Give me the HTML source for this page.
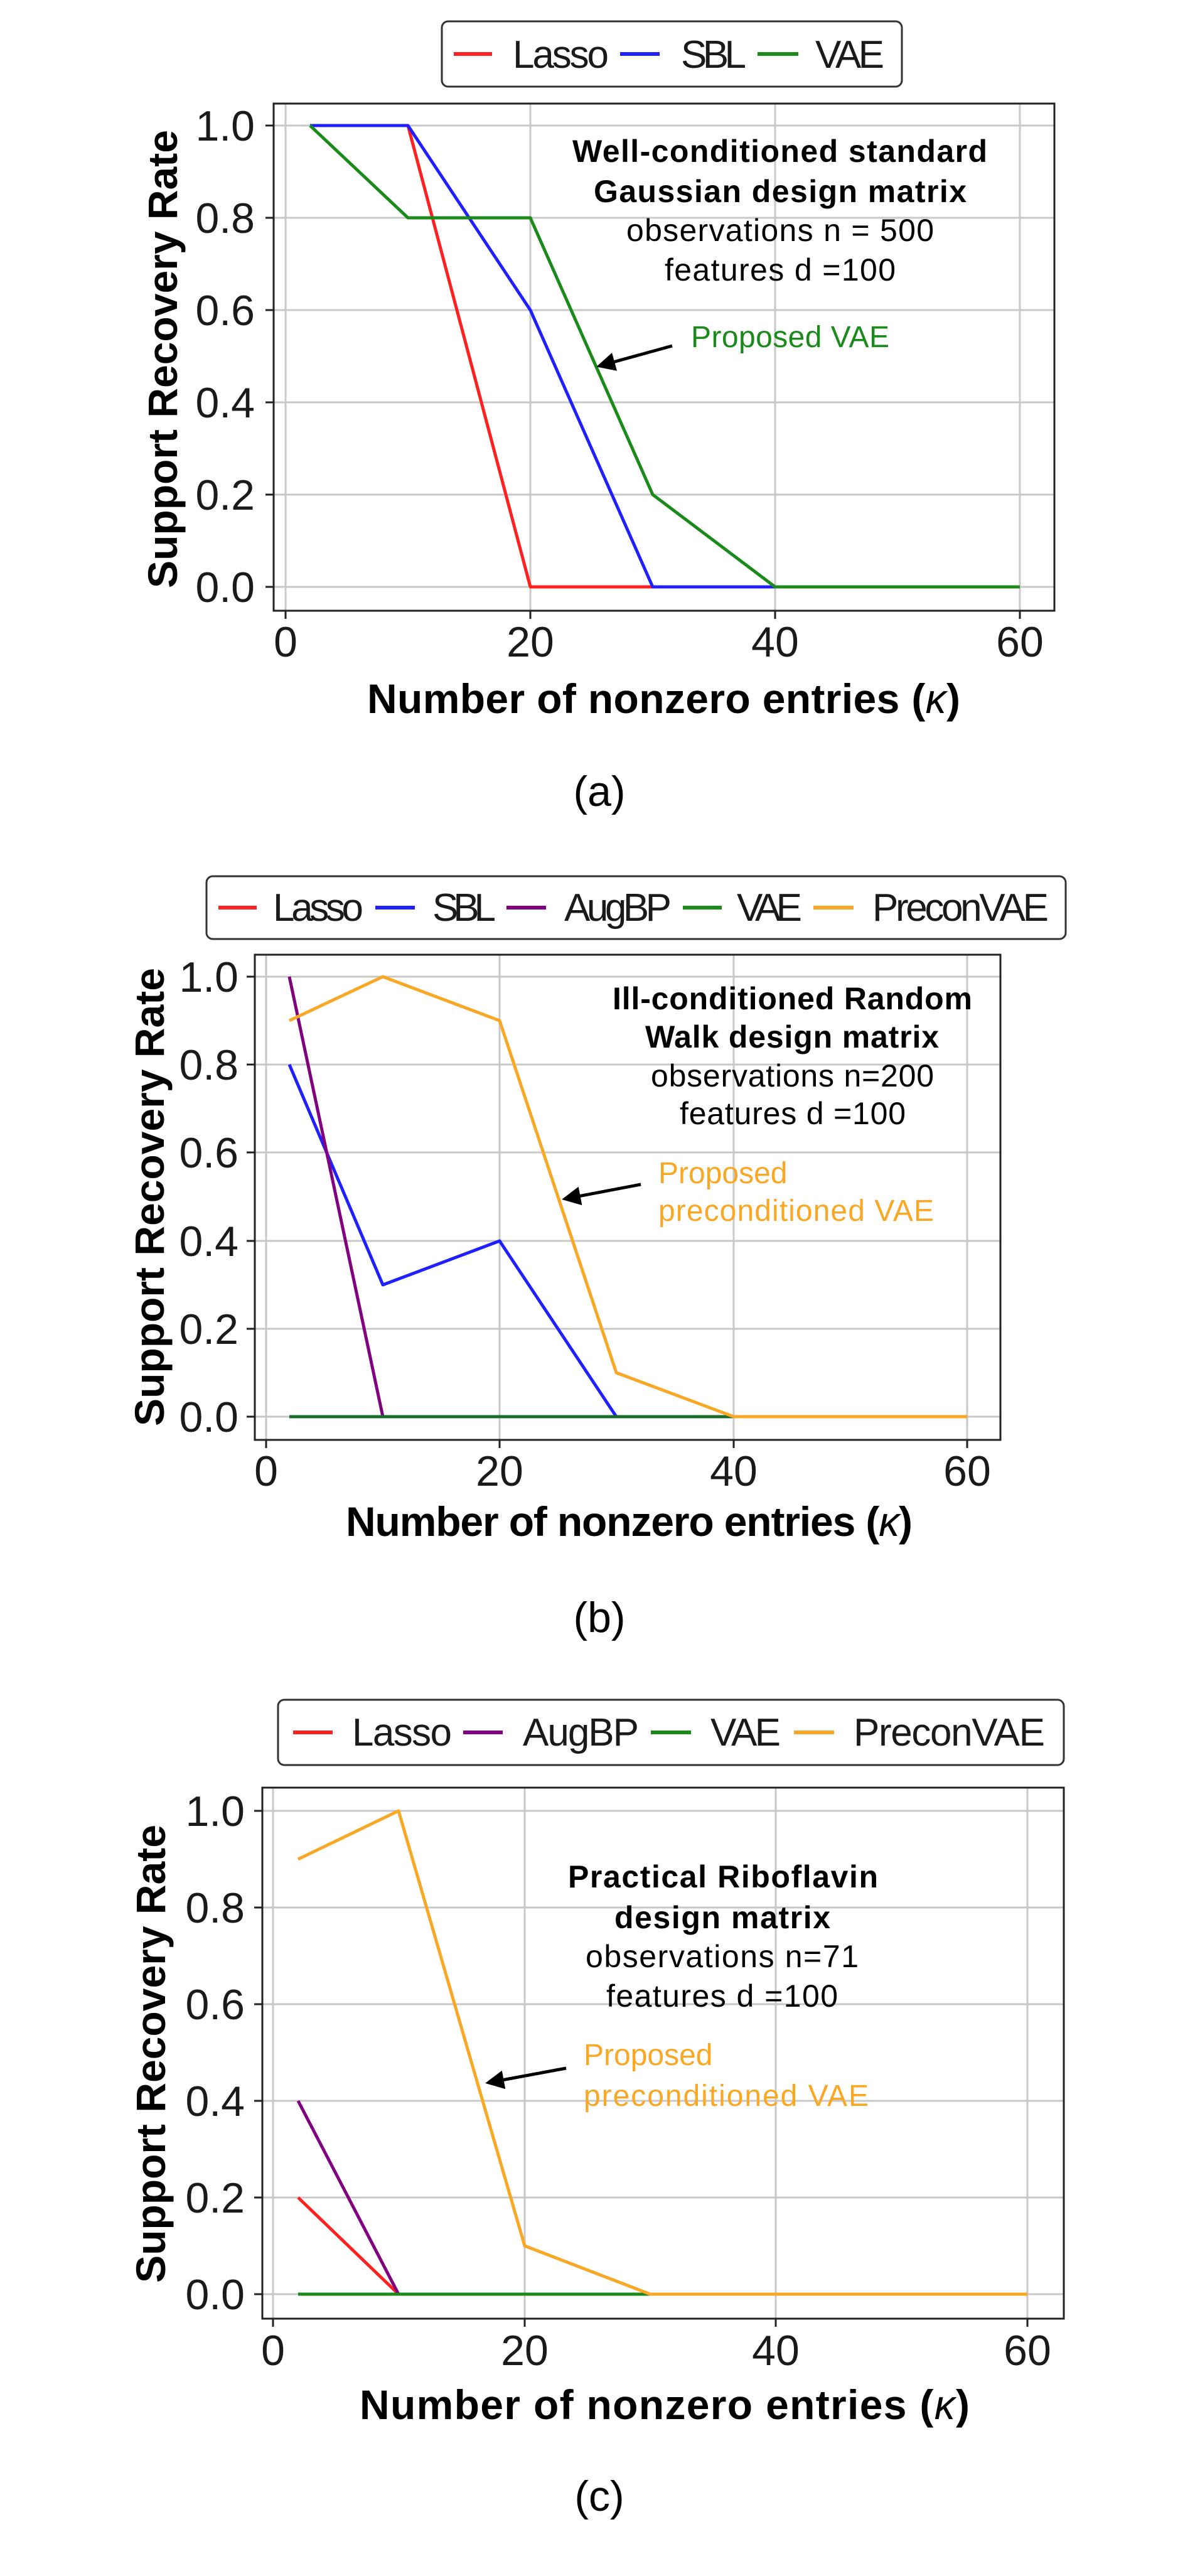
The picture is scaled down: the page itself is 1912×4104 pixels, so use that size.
<!DOCTYPE html>
<html><head><meta charset="utf-8"><style>
html,body{margin:0;padding:0;background:#fff;}
svg{display:block;}
text{font-family:"Liberation Sans",Arial,sans-serif;}
.tk{font-size:68px;fill:#1a1a1a;}
.lg{font-size:62px;fill:#1a1a1a;}
.xl{font-size:66px;font-weight:bold;}
.yl{font-size:66px;font-weight:bold;}
.an{font-size:50px;fill:#000;}
.ab{font-size:50px;font-weight:bold;fill:#000;}
.gr{stroke:#c8c8c8;stroke-width:3;}
.s{fill:none;stroke-width:5;stroke-linejoin:round;}
.cap{font-size:68px;}
</style></head><body>
<svg width="1912" height="4104" viewBox="0 0 1912 4104" xmlns="http://www.w3.org/2000/svg">
<defs><marker id="ah" markerWidth="6" markerHeight="6" refX="5" refY="3" orient="auto"><path d="M0,0 L6,3 L0,6 z" fill="#000"/></marker></defs>

<!-- ===== Panel (a) ===== -->
<rect x="704" y="34" width="733" height="104" rx="10" fill="#fff" stroke="#333" stroke-width="3"/>
<line x1="723" y1="86" x2="784" y2="86" stroke="#ff2020" stroke-width="6"/>
<text class="lg" x="817" y="108" textLength="153">Lasso</text>
<line x1="988" y1="86" x2="1051" y2="86" stroke="#2020ff" stroke-width="6"/>
<text class="lg" x="1085" y="108" textLength="104">SBL</text>
<line x1="1207" y1="86" x2="1272" y2="86" stroke="#1a8a1a" stroke-width="6"/>
<text class="lg" x="1299" y="108" textLength="110">VAE</text>

<g class="gr">
<line x1="436" y1="935" x2="1680" y2="935"/><line x1="436" y1="788" x2="1680" y2="788"/>
<line x1="436" y1="641" x2="1680" y2="641"/><line x1="436" y1="494" x2="1680" y2="494"/>
<line x1="436" y1="347" x2="1680" y2="347"/><line x1="436" y1="200" x2="1680" y2="200"/>
<line x1="455" y1="165" x2="455" y2="973"/><line x1="845" y1="165" x2="845" y2="973"/>
<line x1="1235" y1="165" x2="1235" y2="973"/><line x1="1625" y1="165" x2="1625" y2="973"/>
</g>
<polyline class="s" stroke="#ff2020" points="494,200 650,200 845,935 1040,935 1235,935 1625,935"/>
<polyline class="s" stroke="#2020ff" points="494,200 650,200 845,494 1040,935 1235,935 1625,935"/>
<polyline class="s" stroke="#1a8a1a" points="494,200 650,347 845,347 1040,788 1235,935 1625,935"/>
<rect x="436" y="165" width="1244" height="808" fill="none" stroke="#222" stroke-width="3"/>
<g stroke="#222" stroke-width="3">
<line x1="423" y1="935" x2="436" y2="935"/><line x1="423" y1="788" x2="436" y2="788"/><line x1="423" y1="641" x2="436" y2="641"/><line x1="423" y1="494" x2="436" y2="494"/><line x1="423" y1="347" x2="436" y2="347"/><line x1="423" y1="200" x2="436" y2="200"/>
<line x1="455" y1="973" x2="455" y2="986"/><line x1="845" y1="973" x2="845" y2="986"/><line x1="1235" y1="973" x2="1235" y2="986"/><line x1="1625" y1="973" x2="1625" y2="986"/>
</g>
<g class="tk" text-anchor="end">
<text x="406" y="959">0.0</text><text x="406" y="812">0.2</text><text x="406" y="665">0.4</text><text x="406" y="518">0.6</text><text x="406" y="371">0.8</text><text x="406" y="224">1.0</text>
</g>
<g class="tk" text-anchor="middle">
<text x="455" y="1046">0</text><text x="845" y="1046">20</text><text x="1235" y="1046">40</text><text x="1625" y="1046">60</text>
</g>
<text class="xl" x="585" y="1136" textLength="945">Number of nonzero entries (<tspan font-style="italic" font-weight="normal">κ</tspan>)</text>
<text class="yl" transform="translate(282,572) rotate(-90)" text-anchor="middle">Support Recovery Rate</text>
<text class="ab" x="912" y="258" textLength="661">Well-conditioned standard</text>
<text class="ab" x="946" y="322" textLength="594">Gaussian design matrix</text>
<text class="an" x="998" y="384" textLength="490">observations n = 500</text>
<text class="an" x="1059" y="447" textLength="368">features d =100</text>
<text x="1101" y="553" font-size="48" fill="#1a8a1a" textLength="316">Proposed VAE</text>
<line x1="1071" y1="551" x2="955" y2="583" stroke="#000" stroke-width="5" marker-end="url(#ah)"/>
<text class="cap" x="955" y="1284" text-anchor="middle">(a)</text>

<!-- ===== Panel (b) ===== -->
<rect x="329" y="1396" width="1369" height="100" rx="10" fill="#fff" stroke="#333" stroke-width="3"/>
<line x1="348" y1="1446" x2="409" y2="1446" stroke="#ff2020" stroke-width="6"/>
<text class="lg" x="435" y="1467" textLength="144">Lasso</text>
<line x1="598" y1="1446" x2="661" y2="1446" stroke="#2020ff" stroke-width="6"/>
<text class="lg" x="689" y="1467" textLength="101">SBL</text>
<line x1="807" y1="1446" x2="870" y2="1446" stroke="#800080" stroke-width="6"/>
<text class="lg" x="899" y="1467" textLength="171">AugBP</text>
<line x1="1088" y1="1446" x2="1150" y2="1446" stroke="#1a8a1a" stroke-width="6"/>
<text class="lg" x="1174" y="1467" textLength="104">VAE</text>
<line x1="1296" y1="1446" x2="1360" y2="1446" stroke="#f9a825" stroke-width="6"/>
<text class="lg" x="1390" y="1467" textLength="281">PreconVAE</text>

<g class="gr">
<line x1="406" y1="2257" x2="1594" y2="2257"/><line x1="406" y1="2117" x2="1594" y2="2117"/>
<line x1="406" y1="1977" x2="1594" y2="1977"/><line x1="406" y1="1836" x2="1594" y2="1836"/>
<line x1="406" y1="1696" x2="1594" y2="1696"/><line x1="406" y1="1556" x2="1594" y2="1556"/>
<line x1="424" y1="1521" x2="424" y2="2294"/><line x1="796" y1="1521" x2="796" y2="2294"/>
<line x1="1169" y1="1521" x2="1169" y2="2294"/><line x1="1541" y1="1521" x2="1541" y2="2294"/>
</g>
<polyline class="s" stroke="#ff2020" points="461,2257 1541,2257"/>
<polyline class="s" stroke="#2020ff" points="461,1696 610,2047 796,1977 982,2257 1169,2257 1541,2257"/>
<polyline class="s" stroke="#800080" points="461,1556 610,2257 1541,2257"/>
<polyline class="s" stroke="#1a6a2a" points="461,2257 1169,2257"/>
<polyline class="s" stroke="#f9a825" points="461,1626 610,1556 796,1626 982,2187 1169,2257 1541,2257"/>
<rect x="406" y="1521" width="1188" height="773" fill="none" stroke="#222" stroke-width="3"/>
<g stroke="#222" stroke-width="3">
<line x1="393" y1="2257" x2="406" y2="2257"/><line x1="393" y1="2117" x2="406" y2="2117"/><line x1="393" y1="1977" x2="406" y2="1977"/><line x1="393" y1="1836" x2="406" y2="1836"/><line x1="393" y1="1696" x2="406" y2="1696"/><line x1="393" y1="1556" x2="406" y2="1556"/>
<line x1="424" y1="2294" x2="424" y2="2307"/><line x1="796" y1="2294" x2="796" y2="2307"/><line x1="1169" y1="2294" x2="1169" y2="2307"/><line x1="1541" y1="2294" x2="1541" y2="2307"/>
</g>
<g class="tk" text-anchor="end">
<text x="380" y="2281">0.0</text><text x="380" y="2141">0.2</text><text x="380" y="2001">0.4</text><text x="380" y="1860">0.6</text><text x="380" y="1720">0.8</text><text x="380" y="1580">1.0</text>
</g>
<g class="tk" text-anchor="middle">
<text x="424" y="2367">0</text><text x="796" y="2367">20</text><text x="1169" y="2367">40</text><text x="1541" y="2367">60</text>
</g>
<text class="xl" x="551" y="2447" textLength="903">Number of nonzero entries (<tspan font-style="italic" font-weight="normal">κ</tspan>)</text>
<text class="yl" transform="translate(261,1907) rotate(-90)" text-anchor="middle">Support Recovery Rate</text>
<text class="ab" x="976" y="1608" textLength="573">Ill-conditioned Random</text>
<text class="ab" x="1028" y="1669" textLength="468">Walk design matrix</text>
<text class="an" x="1037" y="1731" textLength="451">observations n=200</text>
<text class="an" x="1083" y="1791" textLength="360">features d =100</text>
<text x="1049" y="1885" font-size="48" fill="#f9a825">Proposed</text>
<text x="1049" y="1945" font-size="48" fill="#f9a825" textLength="439">preconditioned VAE</text>
<line x1="1021" y1="1887" x2="900" y2="1910" stroke="#000" stroke-width="5" marker-end="url(#ah)"/>
<text class="cap" x="955" y="2600" text-anchor="middle">(b)</text>

<!-- ===== Panel (c) ===== -->
<rect x="443" y="2708" width="1252" height="104" rx="10" fill="#fff" stroke="#333" stroke-width="3"/>
<line x1="467" y1="2760" x2="530" y2="2760" stroke="#ff2020" stroke-width="6"/>
<text class="lg" x="561" y="2781" textLength="159">Lasso</text>
<line x1="738" y1="2760" x2="801" y2="2760" stroke="#800080" stroke-width="6"/>
<text class="lg" x="833" y="2781" textLength="185">AugBP</text>
<line x1="1037" y1="2760" x2="1101" y2="2760" stroke="#1a8a1a" stroke-width="6"/>
<text class="lg" x="1132" y="2781" textLength="112">VAE</text>
<line x1="1265" y1="2760" x2="1329" y2="2760" stroke="#f9a825" stroke-width="6"/>
<text class="lg" x="1360" y="2781" textLength="305">PreconVAE</text>

<g class="gr">
<line x1="418" y1="3655" x2="1695" y2="3655"/><line x1="418" y1="3501" x2="1695" y2="3501"/>
<line x1="418" y1="3347" x2="1695" y2="3347"/><line x1="418" y1="3193" x2="1695" y2="3193"/>
<line x1="418" y1="3039" x2="1695" y2="3039"/><line x1="418" y1="2885" x2="1695" y2="2885"/>
<line x1="435" y1="2848" x2="435" y2="3694"/><line x1="836" y1="2848" x2="836" y2="3694"/>
<line x1="1236" y1="2848" x2="1236" y2="3694"/><line x1="1637" y1="2848" x2="1637" y2="3694"/>
</g>
<polyline class="s" stroke="#ff2020" points="475,3501 635,3655 1637,3655"/>
<polyline class="s" stroke="#800080" points="475,3347 635,3655 1637,3655"/>
<polyline class="s" stroke="#1a8a1a" points="475,3655 1036,3655"/>
<polyline class="s" stroke="#f9a825" points="475,2962 635,2885 836,3578 1036,3655 1236,3655 1637,3655"/>
<rect x="418" y="2848" width="1277" height="846" fill="none" stroke="#222" stroke-width="3"/>
<g stroke="#222" stroke-width="3">
<line x1="405" y1="3655" x2="418" y2="3655"/><line x1="405" y1="3501" x2="418" y2="3501"/><line x1="405" y1="3347" x2="418" y2="3347"/><line x1="405" y1="3193" x2="418" y2="3193"/><line x1="405" y1="3039" x2="418" y2="3039"/><line x1="405" y1="2885" x2="418" y2="2885"/>
<line x1="435" y1="3694" x2="435" y2="3707"/><line x1="836" y1="3694" x2="836" y2="3707"/><line x1="1236" y1="3694" x2="1236" y2="3707"/><line x1="1637" y1="3694" x2="1637" y2="3707"/>
</g>
<g class="tk" text-anchor="end">
<text x="390" y="3679">0.0</text><text x="390" y="3525">0.2</text><text x="390" y="3371">0.4</text><text x="390" y="3217">0.6</text><text x="390" y="3063">0.8</text><text x="390" y="2909">1.0</text>
</g>
<g class="tk" text-anchor="middle">
<text x="435" y="3768">0</text><text x="836" y="3768">20</text><text x="1236" y="3768">40</text><text x="1637" y="3768">60</text>
</g>
<text class="xl" x="573" y="3854" textLength="972">Number of nonzero entries (<tspan font-style="italic" font-weight="normal">κ</tspan>)</text>
<text class="yl" transform="translate(263,3272) rotate(-90)" text-anchor="middle">Support Recovery Rate</text>
<text class="ab" x="905" y="3007" textLength="494">Practical Riboflavin</text>
<text class="ab" x="979" y="3072" textLength="344">design matrix</text>
<text class="an" x="933" y="3134" textLength="435">observations n=71</text>
<text class="an" x="966" y="3197" textLength="369">features d =100</text>
<text x="930" y="3290" font-size="48" fill="#f9a825">Proposed</text>
<text x="930" y="3355" font-size="48" fill="#f9a825" textLength="454">preconditioned VAE</text>
<line x1="902" y1="3295" x2="778" y2="3318" stroke="#000" stroke-width="5" marker-end="url(#ah)"/>
<text class="cap" x="955" y="4000" text-anchor="middle">(c)</text>
</svg>
</body></html>
